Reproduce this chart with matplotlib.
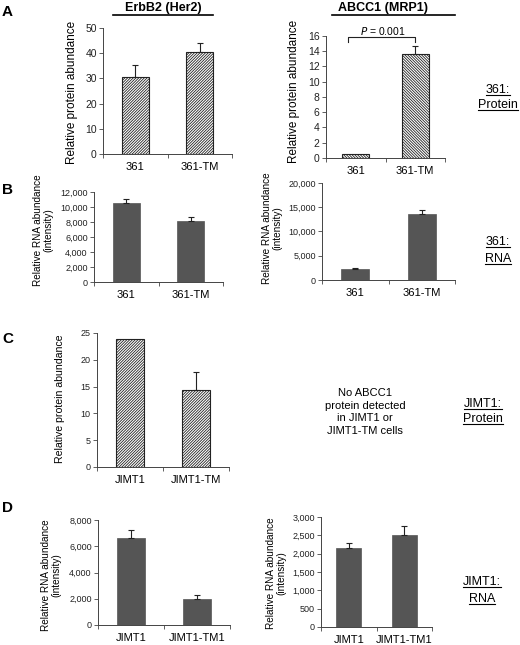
import matplotlib
matplotlib.use('Agg')
import matplotlib.pyplot as plt
from matplotlib.ticker import StrMethodFormatter, FixedLocator
from matplotlib.lines import Line2D

plt.rcParams['font.family'] = ['Liberation Sans', 'DejaVu Sans']
plt.rcParams['hatch.linewidth'] = 0.6
plt.rcParams['hatch.color'] = '#444444'

# ---- data ----
cells_361 = ['361', '361-TM']
cells_jimt = ['JIMT1', 'JIMT1-TM']
cells_jimt1 = ['JIMT1', 'JIMT1-TM1']

erbb2_prot = [30.5, 40.5]
erbb2_prot_err = [5.0, 3.5]
abcc1_prot = [0.5, 13.6]
abcc1_prot_err = [0.0, 1.1]

erbb2_rna_361 = [10500, 8200]
erbb2_rna_361_err = [600, 500]
abcc1_rna_361 = [2300, 13700]
abcc1_rna_361_err = [150, 700]

erbb2_prot_jimt = [23.8, 14.3]
erbb2_prot_jimt_err = [0.0, 3.5]

erbb2_rna_jimt = [6650, 2000]
erbb2_rna_jimt_err = [600, 300]
abcc1_rna_jimt = [2150, 2520]
abcc1_rna_jimt_err = [150, 230]

W, H = 520, 645
fig = plt.figure(figsize=(W / 100, H / 100), dpi=100)


def px_axes(x0, x1, ytop, ybot):
    return fig.add_axes([x0 / W, 1 - ybot / H, (x1 - x0) / W, (ybot - ytop) / H])


def bar_panel(ax, labels, vals, errs, ymax, ystep, hatch=None, comma=False,
              width=0.42, tick_fs=7, cat_fs=8):
    x = list(range(len(vals)))
    if hatch:
        ax.bar(x, vals, width, color='white', edgecolor='#222222', linewidth=0.8,
               hatch=hatch, zorder=2)
    else:
        ax.bar(x, vals, width, color='#555555', edgecolor='#555555', linewidth=0.5,
               zorder=2)
    for xi, v, e in zip(x, vals, errs):
        if e > 0:
            ax.errorbar(xi, v, yerr=[[0], [e]], color='#222222', elinewidth=0.8,
                        capsize=2, capthick=0.8, zorder=3)
    ax.set_xlim(-0.5, len(vals) - 0.5)
    ax.set_ylim(0, ymax)
    ax.set_yticks([i * ystep for i in range(int(round(ymax / ystep)) + 1)])
    if comma:
        ax.yaxis.set_major_formatter(StrMethodFormatter('{x:,.0f}'))
    ax.xaxis.set_major_locator(FixedLocator([-0.5 + i for i in range(len(vals) + 1)]))
    ax.xaxis.set_major_formatter(plt.NullFormatter())
    ax.xaxis.set_minor_locator(FixedLocator(x))
    ax.set_xticklabels(labels, minor=True)
    ax.tick_params(axis='x', which='minor', length=0, labelsize=cat_fs, pad=6)
    ax.tick_params(axis='x', which='major', length=3, width=0.6, color='#444444')
    ax.tick_params(axis='y', length=3, width=0.6, color='#444444', labelsize=tick_fs,
                   pad=1.5, labelcolor='#222222')
    for s in ['top', 'right']:
        ax.spines[s].set_visible(False)
    for s in ['left', 'bottom']:
        ax.spines[s].set_linewidth(0.7)
        ax.spines[s].set_color('#444444')
    ax.patch.set_alpha(0)


HATCH_NE = '/' * 12
HATCH_NW = '\\' * 12

# A: protein in 361 cells
axA1 = px_axes(103, 232, 28, 154)
bar_panel(axA1, cells_361, erbb2_prot, erbb2_prot_err, 50, 10, hatch=HATCH_NE,
          tick_fs=7.5)
axA2 = px_axes(326, 445, 35.7, 158)
bar_panel(axA2, cells_361, abcc1_prot, abcc1_prot_err, 16, 2, hatch=HATCH_NW,
          width=0.45, tick_fs=7.5)
axA2.plot([-0.13, -0.13, 1.0, 1.0], [15.2, 15.8, 15.8, 15.2], color='#222222',
          lw=0.8, clip_on=False)
axA2.text(0.45, 16.6, r'$\it{P}$ = 0.001', ha='center', va='center', fontsize=7.5,
          clip_on=False)

# B: RNA in 361 cells
axB1 = px_axes(94, 223, 192, 282)
bar_panel(axB1, cells_361, erbb2_rna_361, erbb2_rna_361_err, 12000, 2000, comma=True,
          tick_fs=6.5)
axB2 = px_axes(322, 455, 183, 280)
bar_panel(axB2, cells_361, abcc1_rna_361, abcc1_rna_361_err, 20000, 5000, comma=True,
          tick_fs=6.5)

# C: protein in JIMT1 cells
axC = px_axes(97, 229, 333, 467)
bar_panel(axC, cells_jimt, erbb2_prot_jimt, erbb2_prot_jimt_err, 25, 5, hatch=HATCH_NE,
          tick_fs=6.5)

# D: RNA in JIMT1 cells
axD1 = px_axes(98, 230, 520, 625)
bar_panel(axD1, cells_jimt1, erbb2_rna_jimt, erbb2_rna_jimt_err, 8000, 2000, comma=True,
          tick_fs=6.5)
axD2 = px_axes(321, 432, 517, 627)
bar_panel(axD2, cells_jimt1, abcc1_rna_jimt, abcc1_rna_jimt_err, 3000, 500, comma=True,
          width=0.45, tick_fs=6.5)


def ftext(x, y, s, **kw):
    return fig.text(x / W, 1 - y / H, s, **kw)


# y labels
ftext(72, 92, 'Relative protein abundance', rotation=90, ha='center', va='center', fontsize=8.5)
ftext(294, 91, 'Relative protein abundance', rotation=90, ha='center', va='center', fontsize=8.5)
ftext(43, 230, 'Relative RNA abundance\n(intensity)', rotation=90, ha='center', va='center',
      fontsize=7.2, linespacing=1.1)
ftext(272, 228, 'Relative RNA abundance\n(intensity)', rotation=90, ha='center', va='center',
      fontsize=7.2, linespacing=1.1)
ftext(60, 399, 'Relative protein abundance', rotation=90, ha='center', va='center', fontsize=7.6)
ftext(51, 575, 'Relative RNA abundance\n(intensity)', rotation=90, ha='center', va='center',
      fontsize=7.2, linespacing=1.1)
ftext(276, 573, 'Relative RNA abundance\n(intensity)', rotation=90, ha='center', va='center',
      fontsize=7.2, linespacing=1.1)

# panel letters
for letter, y in [('A', 12), ('B', 190), ('C', 339), ('D', 508)]:
    ftext(2, y, letter, ha='left', va='center', fontsize=11, fontweight='bold')

# gene headers with a rule under them
ftext(163, 8, 'ErbB2 (Her2)', ha='center', va='center', fontsize=9, fontweight='bold')
fig.add_artist(Line2D([113 / W, 213 / W], [1 - 15 / H, 1 - 15 / H], color='black', lw=1.2))
ftext(383, 8, 'ABCC1 (MRP1)', ha='center', va='center', fontsize=9, fontweight='bold')
fig.add_artist(Line2D([332 / W, 455 / W], [1 - 15 / H, 1 - 15 / H], color='black', lw=1.2))

# no-protein note
ftext(365, 412, 'No ABCC1\nprotein detected\nin JIMT1 or\nJIMT1-TM cells', ha='center',
      va='center', fontsize=8, linespacing=1.35)

# underlined side labels
side_labels = [
    (498, 93, '361:'), (498, 108, 'Protein'),
    (498, 245, '361:'), (498, 262, 'RNA'),
    (483, 407, 'JIMT1:'), (483, 422, 'Protein'),
    (482, 585, 'JIMT1:'), (482, 602, 'RNA'),
]
side_texts = [ftext(x, y, s, ha='center', va='baseline', fontsize=9) for x, y, s in side_labels]

fig.canvas.draw()
r = fig.canvas.get_renderer()
for t in side_texts:
    bb = t.get_window_extent(renderer=r)
    x0, y0 = t.get_position()
    yline = y0 - 2 / H
    fig.add_artist(Line2D([bb.x0 / W, bb.x1 / W], [yline, yline], color='black', lw=0.8))

fig.savefig('out.png', dpi=100)
